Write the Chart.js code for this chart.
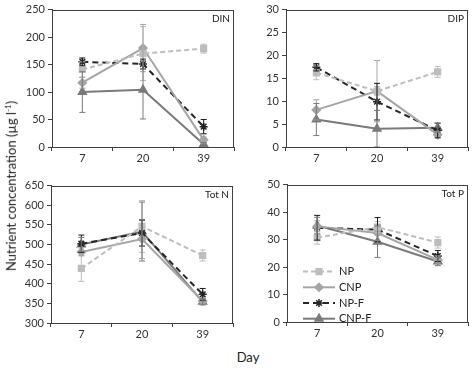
<!DOCTYPE html>
<html>
<head>
<meta charset="utf-8">
<script src="https://cdn.jsdelivr.net/npm/chart.js@4"></script>
<style>
  body { margin: 0; background: #fff; width: 474px; height: 368px; position: relative; overflow: hidden; font-family: Lato, "Open Sans", sans-serif; }
  .panel { position: absolute; }
  #ytitle { position: absolute; left: 11px; top: 186px; transform: translate(-50%, -50%) rotate(-90deg); white-space: nowrap; font-size: 13px; color: #222; }
  #xtitle { position: absolute; left: 248px; top: 357px; transform: translate(-50%, -50%); font-size: 13px; color: #222; }
</style>
</head>
<body>
<div class="panel" style="left:20px;top:0px"><canvas id="din" width="220" height="172"></canvas></div>
<div class="panel" style="left:254px;top:0px"><canvas id="dip" width="220" height="172"></canvas></div>
<div class="panel" style="left:19px;top:176px"><canvas id="totn" width="220" height="172"></canvas></div>
<div class="panel" style="left:255px;top:175px"><canvas id="totp" width="219" height="172"></canvas></div>
<div id="ytitle">Nutrient concentration (µg l<sup style="font-size:8px">-1</sup>)</div>
<div id="xtitle">Day</div>
<script>
const days = ["7", "20", "39"];
const seriesNames = ["NP", "CNP", "NP-F", "CNP-F"];

// DIN
const dinNP = [141, 170, 179];
const dinNPErr = [14, 49, 8];
const dinCNP = [117, 180, 13];
const dinCNPErr = [10, 43, 5];
const dinNPF = [155, 151, 37];
const dinNPFErr = [7, 9, 13];
const dinCNPF = [100, 104, 5];
const dinCNPFErr = [37, 53, 3];

// DIP
const dipNP = [16.2, 12.2, 16.4];
const dipNPErr = [1.5, 1, 1.2];
const dipCNP = [8.1, 12.2, 2.7];
const dipCNPErr = [2.2, 6.7, 0.5];
const dipNPF = [17.4, 9.9, 3.6];
const dipNPFErr = [0.8, 4, 1.6];
const dipCNPF = [6.0, 4.0, 4.2];
const dipCNPFErr = [3.5, 4, 1];

// Tot N
const totnNP = [439, 546, 472];
const totnNPErr = [33, 66, 14];
const totnCNP = [481, 514, 356];
const totnCNPErr = [10, 50, 8];
const totnNPF = [502, 529, 373];
const totnNPFErr = [22, 33, 15];
const totnCNPF = [500, 533, 354];
const totnCNPFErr = [18, 75, 8];

// Tot P
const totpNP = [30.7, 34.5, 28.9];
const totpNPErr = [2.4, 2, 2];
const totpCNP = [34.8, 32.4, 22.6];
const totpCNPErr = [2, 3, 1.5];
const totpNPF = [34.3, 33.6, 24.0];
const totpNPFErr = [4.5, 4.4, 2];
const totpCNPF = [35.1, 29.2, 22];
const totpCNPFErr = [3, 5.7, 1.5];

const styles = {
  "NP": { color: "#bdbdbd", dash: [5, 3], point: "rect", radius: 4 },
  "CNP": { color: "#a5a5a5", dash: [], point: "rectRot", radius: 4 },
  "NP-F": { color: "#262626", dash: [6, 4], point: "star", radius: 4 },
  "CNP-F": { color: "#7a7a7a", dash: [], point: "triangle", radius: 4.5 },
};
const axisColor = "#404040";
const font = { family: "Lato, 'Open Sans', sans-serif", size: 11 };

// draws error bars, frame, panel label and (optionally) legend
const panelPlugin = {
  id: "panelPlugin",
  afterDatasetsDraw(chart) {
    const ctx = chart.ctx;
    const y = chart.scales.y;
    ctx.save();
    chart.data.datasets.forEach((ds, i) => {
      const meta = chart.getDatasetMeta(i);
      ctx.strokeStyle = ds.errColor;
      ctx.lineWidth = 1;
      ctx.setLineDash([]);
      meta.data.forEach((pt, j) => {
        const err = ds.errors[j];
        if (!err) return;
        const top = y.getPixelForValue(ds.data[j] + err);
        const bot = y.getPixelForValue(Math.max(ds.data[j] - err, y.min));
        ctx.beginPath();
        ctx.moveTo(pt.x, top); ctx.lineTo(pt.x, bot);
        ctx.moveTo(pt.x - 3, top); ctx.lineTo(pt.x + 3, top);
        ctx.moveTo(pt.x - 3, bot); ctx.lineTo(pt.x + 3, bot);
        ctx.stroke();
      });
    });
    ctx.restore();
  },
  afterDraw(chart, args, opts) {
    const ctx = chart.ctx;
    const a = chart.chartArea;
    ctx.save();
    ctx.strokeStyle = axisColor;
    ctx.lineWidth = 1;
    ctx.strokeRect(Math.round(a.left) + 0.5, Math.round(a.top) + 0.5, Math.round(a.right - a.left) - 1, Math.round(a.bottom - a.top));
    ctx.fillStyle = "#222";
    ctx.font = "10px Lato, 'Open Sans', sans-serif";
    ctx.textAlign = "right";
    ctx.textBaseline = "middle";
    ctx.fillText(opts.label, a.right - 4, a.top + 9);

    if (opts.legend) {
      const x0 = a.left + 16;
      chart.data.datasets.forEach((ds, i) => {
        const ly = a.top + 87 + i * 15.7;
        ctx.strokeStyle = ds.borderColor;
        ctx.lineWidth = 2;
        ctx.setLineDash(ds.borderDash);
        ctx.beginPath();
        ctx.moveTo(x0, ly); ctx.lineTo(x0 + 32, ly);
        ctx.stroke();
        ctx.setLineDash([]);
        ctx.fillStyle = ds.backgroundColor;
        ctx.strokeStyle = ds.borderColor;
        ctx.lineWidth = 1.5;
        Chart.helpers.drawPoint(ctx, {
          pointStyle: ds.pointStyle, radius: ds.pointRadius, borderWidth: 1.5, rotation: 0,
        }, x0 + 16, ly);
        ctx.fillStyle = "#222";
        ctx.font = "11px Lato, 'Open Sans', sans-serif";
        ctx.textAlign = "left";
        ctx.fillText(ds.label, x0 + 36, ly);
      });
    }
    ctx.restore();
  },
};

function makeDataset(name, values, errors) {
  const s = styles[name];
  return {
    label: name,
    data: values,
    errors: errors,
    errColor: name === "NP-F" ? "#1a1a1a" : s.color,
    borderColor: s.color,
    backgroundColor: s.color,
    borderDash: s.dash,
    borderWidth: 2,
    pointStyle: s.point,
    pointRadius: s.radius,
    pointBorderWidth: 1.5,
    tension: 0,
  };
}

function makePanel(id, label, rows, yMin, yMax, step, legend, padRight) {
  new Chart(document.getElementById(id), {
    type: "line",
    data: {
      labels: days,
      datasets: rows.map((r, i) => makeDataset(seriesNames[i], r[0], r[1])),
    },
    options: {
      responsive: false,
      animation: false,
      layout: { padding: { top: 7, right: padRight, left: 0, bottom: 0 } },
      plugins: {
        legend: { display: false },
        tooltip: { enabled: false },
        panelPlugin: { label: label, legend: legend },
      },
      scales: {
        x: {
          offset: true,
          grid: { offset: true, drawOnChartArea: false, tickLength: 4, color: axisColor },
          border: { color: axisColor },
          ticks: { color: "#333", font: font, padding: 1, maxRotation: 0 },
          afterFit: (scale) => { scale.height = 25; },
        },
        y: {
          min: yMin,
          max: yMax,
          grid: { drawOnChartArea: false, tickLength: 4, color: axisColor },
          border: { color: axisColor },
          ticks: { stepSize: step, color: "#333", font: font, padding: 3 },
          afterFit: (scale) => { scale.width = 32; },
        },
      },
    },
    plugins: [panelPlugin],
  });
}

makePanel("din", "DIN", [[dinNP, dinNPErr], [dinCNP, dinCNPErr], [dinNPF, dinNPFErr], [dinCNPF, dinCNPFErr]], 0, 250, 50, false, 2);
makePanel("dip", "DIP", [[dipNP, dipNPErr], [dipCNP, dipCNPErr], [dipNPF, dipNPFErr], [dipCNPF, dipCNPFErr]], 0, 30, 5, false, 1);
makePanel("totn", "Tot N", [[totnNP, totnNPErr], [totnCNP, totnCNPErr], [totnNPF, totnNPFErr], [totnCNPF, totnCNPFErr]], 300, 650, 50, false, 2);
makePanel("totp", "Tot P", [[totpNP, totpNPErr], [totpCNP, totpCNPErr], [totpNPF, totpNPFErr], [totpCNPF, totpCNPFErr]], 0, 50, 10, true, 1);
</script>
</body>
</html>
